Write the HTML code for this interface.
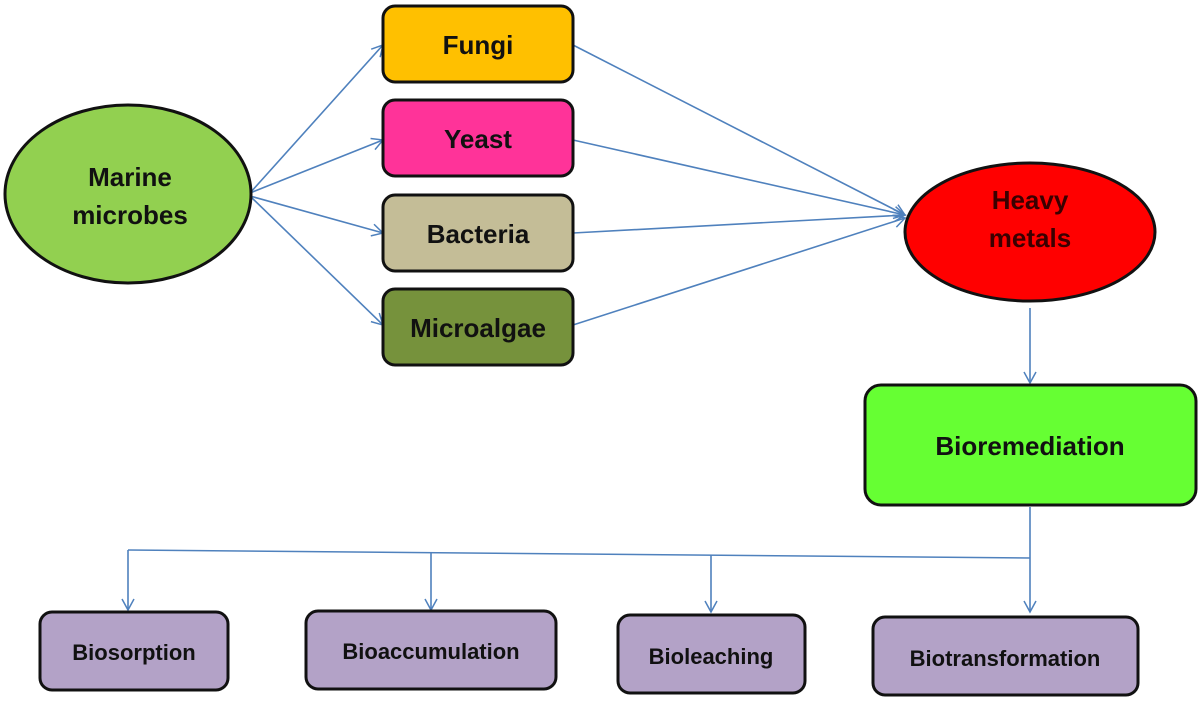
<!DOCTYPE html>
<html><head><meta charset="utf-8"><style>
html,body{margin:0;padding:0;background:#fff;width:1200px;height:702px;overflow:hidden}
svg text{font-family:"Liberation Sans",sans-serif;font-weight:bold;fill:#111}
</style></head><body>
<svg width="1200" height="702" viewBox="0 0 1200 702" xmlns="http://www.w3.org/2000/svg">
<defs>
<marker id="a" markerWidth="14" markerHeight="14" refX="12" refY="7" orient="auto" markerUnits="userSpaceOnUse">
<path d="M1,1 L12,7 L1,13" fill="none" stroke="#4f81bd" stroke-width="1.5"/>
</marker>
</defs>
<g stroke="#4f81bd" stroke-width="1.6" fill="none">
<line x1="250" y1="193" x2="383" y2="45" marker-end="url(#a)"/>
<line x1="250" y1="193" x2="383" y2="140" marker-end="url(#a)"/>
<line x1="250" y1="196" x2="383" y2="233" marker-end="url(#a)"/>
<line x1="250" y1="196" x2="383" y2="325" marker-end="url(#a)"/>
<line x1="573" y1="45" x2="905" y2="215" marker-end="url(#a)"/>
<line x1="573" y1="140" x2="905" y2="215" marker-end="url(#a)"/>
<line x1="573" y1="233" x2="905" y2="215" marker-end="url(#a)"/>
<line x1="573" y1="325" x2="905" y2="218" marker-end="url(#a)"/>
<line x1="1030" y1="308" x2="1030" y2="383" marker-end="url(#a)"/>
<line x1="1030" y1="507" x2="1030" y2="558"/>
<line x1="128" y1="550" x2="1030" y2="558"/>
<line x1="128" y1="550" x2="128" y2="610" marker-end="url(#a)"/>
<line x1="431" y1="553" x2="431" y2="610" marker-end="url(#a)"/>
<line x1="711" y1="555" x2="711" y2="612" marker-end="url(#a)"/>
<line x1="1030" y1="558" x2="1030" y2="612" marker-end="url(#a)"/>
</g>
<g stroke="#111" stroke-width="3">
<ellipse cx="128" cy="194" rx="123" ry="89" fill="#92d050"/>
<rect x="383" y="6" width="190" height="76" rx="12" fill="#ffc000"/>
<rect x="383" y="100" width="190" height="76" rx="12" fill="#ff3399"/>
<rect x="383" y="195" width="190" height="76" rx="12" fill="#c4bd97"/>
<rect x="383" y="289" width="190" height="76" rx="12" fill="#76923c"/>
<ellipse cx="1030" cy="232" rx="125" ry="69" fill="#ff0000"/>
<rect x="865" y="385" width="331" height="120" rx="16" fill="#66ff33"/>
<rect x="40" y="612" width="188" height="78" rx="12" fill="#b3a2c7"/>
<rect x="306" y="611" width="250" height="78" rx="12" fill="#b3a2c7"/>
<rect x="618" y="615" width="187" height="78" rx="12" fill="#b3a2c7"/>
<rect x="873" y="617" width="265" height="78" rx="12" fill="#b3a2c7"/>
</g>
<g text-anchor="middle" font-size="26">
<text x="130" y="186">Marine</text>
<text x="130" y="224">microbes</text>
<text x="478" y="54">Fungi</text>
<text x="478" y="148">Yeast</text>
<text x="478" y="243">Bacteria</text>
<text x="478" y="337">Microalgae</text>
<text x="1030" y="209" style="fill:#3a0000">Heavy</text>
<text x="1030" y="247" style="fill:#3a0000">metals</text>
<text x="1030" y="455">Bioremediation</text>
</g>
<g text-anchor="middle" font-size="22">
<text x="134" y="660">Biosorption</text>
<text x="431" y="659">Bioaccumulation</text>
<text x="711" y="664">Bioleaching</text>
<text x="1005" y="666">Biotransformation</text>
</g>
</svg>
</body></html>
